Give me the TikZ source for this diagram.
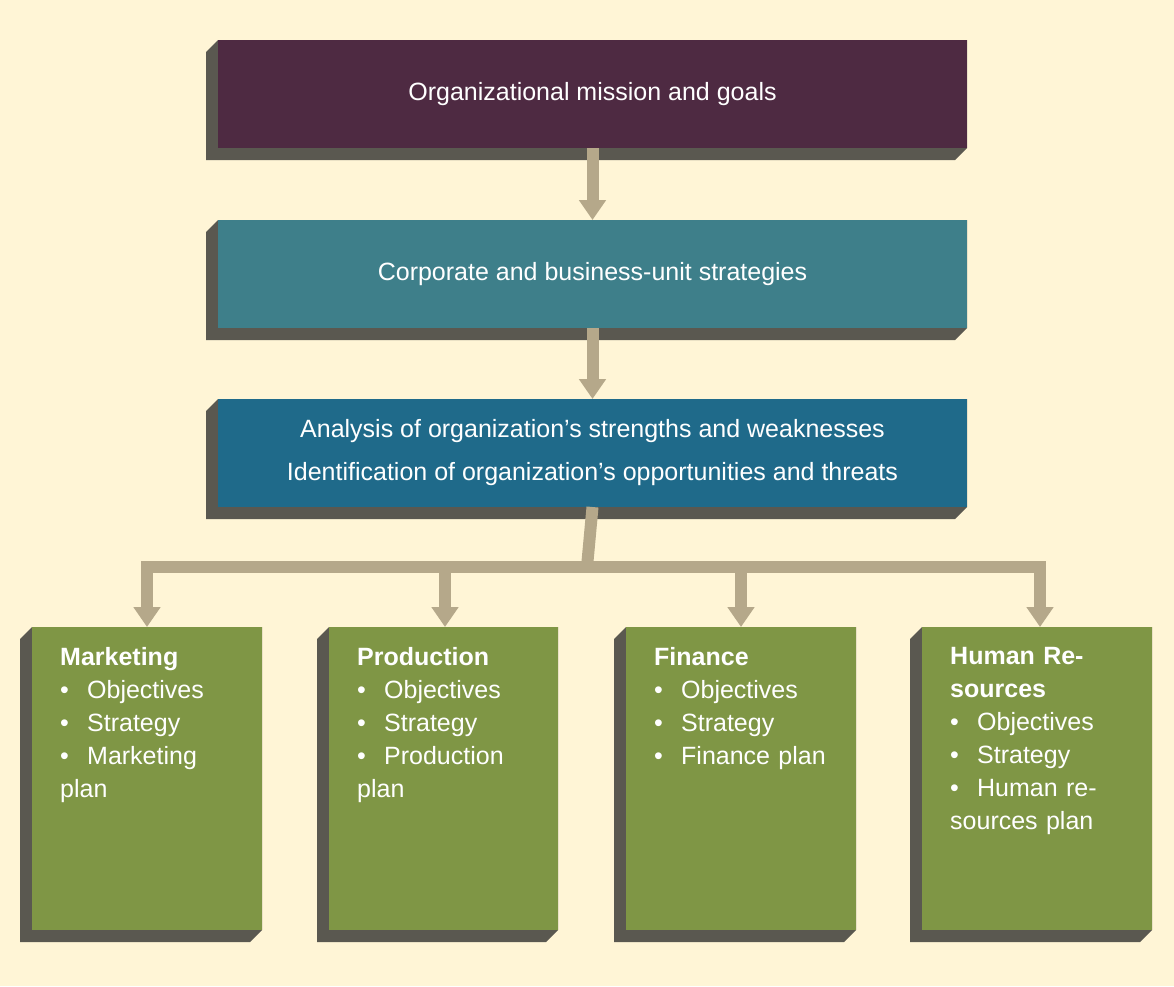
\documentclass[tikz,border=0pt]{standalone}
\usepackage{fontspec}
\setmainfont{Liberation Sans}
\usetikzlibrary{arrows.meta}
\definecolor{bg}{HTML}{FFF5D6}
\definecolor{cmission}{HTML}{4E2A42}
\definecolor{cstrat}{HTML}{3E7F8A}
\definecolor{canal}{HTML}{1F6A8A}
\definecolor{cgreen}{HTML}{7F9645}
\definecolor{cshadow}{HTML}{5A5850}
\definecolor{carrow}{HTML}{B5A88A}
\newcommand{\blockbox}[6]{% name, x1, y1, x2, y2, color
  \fill[cshadow] (#2-12,#3+12) -- (#2,#3) -- (#4,#3) -- (#4,#5) -- (#4-12,#5+12) -- (#2-12,#5+12) -- cycle;
  \fill[#6] (#2,#3) rectangle (#4,#5);
  \coordinate (#1) at ({(#2+#4)/2},{(#3+#5)/2});
  \coordinate (#1-n) at ({(#2+#4)/2},#3);
  \coordinate (#1-s) at ({(#2+#4)/2},#5);
}
\newcommand{\bitem}[1]{\par\hangindent=27pt\hangafter=1\noindent\makebox[27pt][l]{\textbullet}#1}
\tikzset{
  conn/.style={draw=carrow, line width=12pt},
  arr/.style={conn, -{Triangle[width=26pt,length=20pt]}, shorten >=0pt},
  boxtext/.style={text=white, font=\fontsize{25}{30}\selectfont},
  unittext/.style={text=white, anchor=north west, text width=190pt, inner sep=0pt, align=left, font=\fontsize{25}{33}\selectfont}
}
\begin{document}
\begin{tikzpicture}[x=1pt,y=-1pt]
\fill[bg] (0,0) rectangle (1174,986);
\useasboundingbox (0,0) rectangle (1174,986);
\blockbox{mission}{218}{40}{967}{148}{cmission}
\blockbox{strat}{218}{220}{967}{328}{cstrat}
\blockbox{anal}{218}{399}{967}{507}{canal}
\blockbox{mkt}{32}{627}{262}{930}{cgreen}
\blockbox{prod}{329}{627}{558}{930}{cgreen}
\blockbox{fin}{626}{627}{856}{930}{cgreen}
\blockbox{hr}{922}{627}{1152}{930}{cgreen}
\node[boxtext] (tmission) at (mission) {Organizational mission and goals};
\node[boxtext] (tstrat) at (strat) {Corporate and business-unit strategies};
\node[boxtext, align=center, font=\fontsize{25}{43}\selectfont] (tanal) at (anal) {Analysis of organization’s strengths and weaknesses\\Identification of organization’s opportunities and threats};
\draw[arr] (mission-s) -- (strat-n);
\draw[arr] (strat-s) -- (anal-n);
\coordinate (branch) at (587,567);
\coordinate (bl) at (147,567);
\coordinate (br) at (1040,567);
\draw[conn] (anal-s) -- (branch);
\draw[conn, line cap=rect] (bl) -- (br);
\draw[arr] (bl) -- (147,627);
\draw[arr] (445,567) -- (445,627);
\draw[arr] (741,567) -- (741,627);
\draw[arr] (br) -- (1040,627);
\node[unittext] (tmkt) at (60,647) {\textbf{Marketing}\bitem{Objectives}\bitem{Strategy}\bitem{Marketing plan}};
\node[unittext] (tprod) at (357,647) {\textbf{Production}\bitem{Objectives}\bitem{Strategy}\bitem{Production plan}};
\node[unittext] (tfin) at (654,647) {\textbf{Finance}\bitem{Objectives}\bitem{Strategy}\bitem{Finance plan}};
\node[unittext, text width=175pt] (thr) at (950,647) {\textbf{Human Resources}\bitem{Objectives}\bitem{Strategy}\bitem{Human resources plan}};
\end{tikzpicture}
\end{document}
